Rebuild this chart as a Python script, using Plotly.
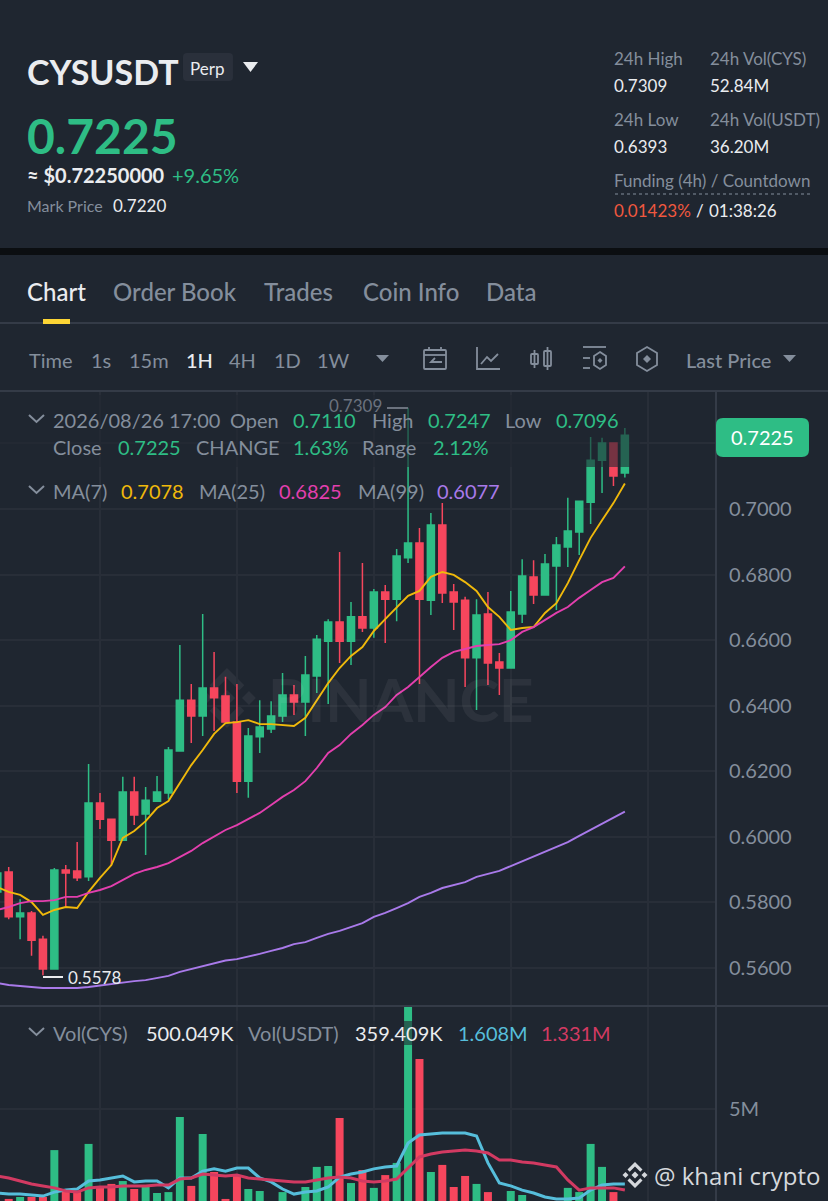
import plotly.graph_objects as go
from plotly.subplots import make_subplots

W, H = 828, 1201
BG = '#1F2630'
GRID = '#282E38'
AXIS = '#343B47'
GREEN = '#2EBD85'
RED = '#F6465D'
GRAY = '#848E9C'
WHITE = '#EAECEF'
YELLOW = '#F0B90B'
PINK = '#E33FAE'
PURPLE = '#A97AEA'
VOL_BLUE = '#56BEDB'
VOL_RED = '#D23A62'
FONT = 'Lato'

# 1h candles, last one is 2026/08/26 17:00
opens = [.5832, .5893, .5756, .5768, .5688, .5597, .5899, .5896, .5878, .6103, .6054, .5990, .6137, .6070, .6109,
         .6134, .6262, .6417, .6369, .6454, .6430, .6350, .6170, .6305, .6329, .6369, .6433, .6411, .6491, .6597,
         .6655, .6597, .6671, .6637, .6747, .6725, .6851, .6896, .6722, .6951, .6747, .6722, .6546, .6680, .6533,
         .6515, .6680, .6793, .6738, .6826, .6884, .6930, .7021, .7149, .7201, .7110]
highs = [.5899, .5908, .5810, .5774, .5698, .5905, .5914, .5984, .6222, .6134, .6054, .6183, .6183, .6152, .6186,
         .6274, .6585, .6466, .6680, .6564, .6488, .6466, .6332, .6417, .6414, .6500, .6463, .6552, .6616, .6664,
         .6869, .6716, .6835, .6756, .6768, .6878, .7309, .6942, .6988, .7018, .6771, .6732, .6725, .6747, .6561,
         .6750, .6847, .6844, .6863, .6915, .7034, .7024, .7220, .7217, .7204, .7247]
lows = [.5823, .5749, .5688, .5637, .5578, .5597, .5786, .5865, .5865, .6024, .5914, .5990, .6036, .5945, .6109,
        .6115, .6262, .6286, .6308, .6323, .6350, .6134, .6119, .6256, .6317, .6350, .6372, .6308, .6439, .6405,
        .6530, .6524, .6625, .6607, .6591, .6658, .6835, .6466, .6677, .6713, .6631, .6457, .6387, .6463, .6433,
        .6515, .6652, .6710, .6738, .6692, .6823, .6860, .6954, .7049, .7070, .7096]
closes = [.5890, .5756, .5768, .5685, .5597, .5899, .5890, .5875, .6103, .6054, .5990, .6137, .6067, .6112, .6137,
          .6265, .6417, .6369, .6454, .6424, .6350, .6170, .6308, .6335, .6369, .6433, .6411, .6494, .6603, .6655,
          .6597, .6671, .6637, .6747, .6725, .6857, .6896, .6725, .6951, .6744, .6716, .6546, .6677, .6530, .6515,
          .6686, .6796, .6738, .6832, .6890, .6933, .7024, .7149, .7201, .7101, .7225]

ma7 = [.5847, .5832, .5823, .5801, .5762, .5777, .5786, .5783, .5832, .5875, .5914, .5997, .6018, .6048, .6088,
       .6109, .6164, .6219, .6265, .6314, .6347, .6350, .6356, .6344, .6344, .6341, .6338, .6363, .6417, .6469,
       .6515, .6552, .6579, .6628, .6664, .6701, .6735, .6750, .6793, .6808, .6799, .6777, .6750, .6701, .6671,
       .6631, .6637, .6640, .6683, .6713, .6774, .6844, .6912, .6966, .7018, .7078]
ma25 = [.5777, .5786, .5798, .5804, .5804, .5807, .5817, .5817, .5829, .5838, .5850, .5868, .5887, .5899, .5908,
        .5920, .5939, .5957, .5981, .6000, .6021, .6036, .6054, .6073, .6097, .6122, .6143, .6170, .6210, .6256,
        .6280, .6314, .6341, .6372, .6396, .6433, .6457, .6488, .6518, .6546, .6564, .6573, .6582, .6585, .6588,
        .6600, .6625, .6640, .6661, .6683, .6701, .6729, .6753, .6777, .6790, .6825]
ma99 = [.5554, .5548, .5545, .5542, .5539, .5539, .5539, .5539, .5542, .5547, .5550, .5557, .5560, .5563, .5570,
        .5576, .5588, .5597, .5606, .5615, .5623, .5627, .5634, .5643, .5652, .5661, .5673, .5679, .5692, .5704,
        .5713, .5725, .5737, .5756, .5768, .5783, .5798, .5817, .5829, .5844, .5853, .5862, .5878, .5887, .5896,
        .5911, .5926, .5939, .5954, .5969, .5984, .6003, .6021, .6039, .6058, .6077]

# volume in millions
volumes = [.6, .93, 1.02, 1.02, 1.02, 3.14, 1.29, 1.24, 3.42, 1.43, 1.61, 1.74, 1.38, 1.47, 1.20,
           1.24, 4.64, 1.52, 3.87, 2.15, .93, 2.01, 1.38, 1.29, .7, 1.24, .7, 1.47, 2.38, 2.42,
           4.59, 1.65, 2.24, 1.43, 2.01, 2.56, 9.75, 7.26, 2.15, 2.47, 1.47, 1.97, 1.61, 1.24, .7,
           1.29, 1.11, .7, .7, .7, 1.43, 1.24, 3.42, 2.38, 1.24, .500049]
vol_ma_fast = [1.20, 1.15, 1.15, 1.11, 1.06, 1.24, 1.33, 1.38, 1.74, 1.79, 1.88, 1.97, 1.70, 1.74, 1.74,
               1.43, 1.88, 1.88, 2.19, 2.29, 2.19, 2.33, 2.33, 1.88, 1.70, 1.38, 1.15, 1.24, 1.29, 1.47,
               1.92, 2.06, 2.15, 2.29, 2.38, 2.42, 3.46, 3.82, 3.87, 3.91, 3.91, 3.91, 3.78, 2.56, 1.65,
               1.52, 1.33, 1.20, 1.02, .93, .93, .97, 1.33, 1.56, 1.61, 1.608]
vol_ma_slow = [1.97, 1.88, 1.74, 1.61, 1.52, 1.43, 1.29, 1.24, 1.43, 1.47, 1.47, 1.52, 1.52, 1.52, 1.56,
               1.56, 1.83, 1.88, 2.06, 2.01, 1.97, 2.01, 1.88, 1.83, 1.79, 1.74, 1.70, 1.70, 1.79, 1.88,
               1.92, 1.88, 1.74, 1.70, 1.74, 1.83, 2.33, 2.83, 2.96, 3.05, 3.10, 3.14, 3.10, 3.01, 2.69,
               2.69, 2.60, 2.56, 2.47, 2.38, 1.79, 1.33, 1.43, 1.43, 1.43, 1.331]

candle_x = list(range(len(closes)))
price_ticks = [.56, .58, .60, .62, .64, .66, .68, .70, .72]
price_tick_labels = ['0.5600', '0.5800', '0.6000', '0.6200', '0.6400', '0.6600', '0.6800', '0.7000', '']
time_ticks = [9, 21, 33, 45, 57]
vol_ticks = [5]
vol_tick_labels = ['5M']

# x px, y px, text, size, colour, weight
header_texts = [
    (28, 71, 'CYSUSDT', 34, WHITE, 700),
    (191, 69, 'Perp', 17, WHITE, 400),
    (28, 135, '0.7225', 48, GREEN, 700),
    (28, 175, '≈ $0.72250000', 20, WHITE, 700),
    (173, 175, '+9.65%', 20, GREEN, 400),
    (28, 205, 'Mark Price', 16, GRAY, 400),
    (114, 205, '0.7220', 17, WHITE, 400),
    (615, 58, '24h High', 17, GRAY, 400),
    (711, 58, '24h Vol(CYS)', 17, GRAY, 400),
    (615, 86, '0.7309', 17, WHITE, 400),
    (711, 86, '52.84M', 17, WHITE, 400),
    (615, 119, '24h Low', 17, GRAY, 400),
    (711, 119, '24h Vol(USDT)', 17, GRAY, 400),
    (615, 147, '0.6393', 17, WHITE, 400),
    (711, 147, '36.20M', 17, WHITE, 400),
    (615, 181, 'Funding (4h) / Countdown', 17, GRAY, 400),
    (615, 210, '0.01423%', 17, '#F0583F', 400),
    (697, 210, '/', 17, WHITE, 400),
    (710, 210, '01:38:26', 17, WHITE, 400),
]
tab_texts = [
    (28, 292, 'Chart', 24, WHITE, 500),
    (114, 292, 'Order Book', 24, GRAY, 500),
    (265, 292, 'Trades', 24, GRAY, 500),
    (364, 292, 'Coin Info', 24, GRAY, 500),
    (487, 292, 'Data', 24, GRAY, 500),
]
toolbar_texts = [
    (30, 360, 'Time', 20, GRAY, 400),
    (92, 360, '1s', 20, GRAY, 400),
    (130, 360, '15m', 20, GRAY, 400),
    (187, 360, '1H', 20, WHITE, 500),
    (230, 360, '4H', 20, GRAY, 400),
    (275, 360, '1D', 20, GRAY, 400),
    (318, 360, '1W', 20, GRAY, 400),
    (687, 360, 'Last Price', 20, GRAY, 500),
]
legend_texts = [
    (54, 420, '2026/08/26 17:00', 20, GRAY, 400),
    (231, 420, 'Open', 20, GRAY, 400),
    (294, 420, '0.7110', 20, GREEN, 400),
    (373, 420, 'High', 20, GRAY, 400),
    (429, 420, '0.7247', 20, GREEN, 400),
    (506, 420, 'Low', 20, GRAY, 400),
    (557, 420, '0.7096', 20, GREEN, 400),
    (54, 447, 'Close', 20, GRAY, 400),
    (119, 447, '0.7225', 20, GREEN, 400),
    (197, 447, 'CHANGE', 20, GRAY, 400),
    (294, 447, '1.63%', 20, GREEN, 400),
    (363, 447, 'Range', 20, GRAY, 400),
    (434, 447, '2.12%', 20, GREEN, 400),
    (54, 491, 'MA(7)', 20, GRAY, 400),
    (122, 491, '0.7078', 20, YELLOW, 400),
    (200, 491, 'MA(25)', 20, GRAY, 400),
    (280, 491, '0.6825', 20, PINK, 400),
    (359, 491, 'MA(99)', 20, GRAY, 400),
    (438, 491, '0.6077', 20, PURPLE, 400),
    (54, 1033, 'Vol(CYS)', 20, GRAY, 400),
    (147, 1033, '500.049K', 20, WHITE, 400),
    (249, 1033, 'Vol(USDT)', 20, GRAY, 400),
    (356, 1033, '359.409K', 20, WHITE, 400),
    (459, 1033, '1.608M', 20, VOL_BLUE, 400),
    (542, 1033, '1.331M', 20, VOL_RED, 400),
    (330, 406, '0.7309', 17, '#6B727E', 400),
    (69, 977, '0.5578', 17, WHITE, 400),
]


def px(x):
    return x / W


def py(y):
    return 1 - y / H


def poly(points, close=False):
    s = 'M ' + ' L '.join(f'{px(x):.5f} {py(y):.5f}' for x, y in points)
    return s + (' Z' if close else '')


def round_rect(x0, y0, x1, y1, r):
    def p(x, y):
        return f'{px(x):.5f} {py(y):.5f}'
    return (f'M {p(x0 + r, y0)} L {p(x1 - r, y0)} Q {p(x1, y0)} {p(x1, y0 + r)} L {p(x1, y1 - r)} '
            f'Q {p(x1, y1)} {p(x1 - r, y1)} L {p(x0 + r, y1)} Q {p(x0, y1)} {p(x0, y1 - r)} '
            f'L {p(x0, y0 + r)} Q {p(x0, y0)} {p(x0 + r, y0)} Z')


def add_path(fig, path, fill=None, line=None, width=0, layer='above'):
    fig.add_shape(type='path', path=path, xref='paper', yref='paper', layer=layer,
                  fillcolor=fill if fill else 'rgba(0,0,0,0)',
                  line=dict(color=line if line else 'rgba(0,0,0,0)', width=width))


def add_rect(fig, x0, y0, x1, y1, fill, layer='above'):
    fig.add_shape(type='rect', xref='paper', yref='paper', layer=layer, x0=px(x0), x1=px(x1), y0=py(y1), y1=py(y0),
                  fillcolor=fill, line_width=0)


def add_line(fig, x0, y0, x1, y1, color, width=1, dash=None):
    fig.add_shape(type='line', xref='paper', yref='paper', layer='above', x0=px(x0), x1=px(x1), y0=py(y0), y1=py(y1),
                  line=dict(color=color, width=width, dash=dash))


def add_text(fig, row):
    x, y, s, size, color, weight = row
    # annotation box adds about 2px on the left
    fig.add_annotation(x=px(x - 1.7), y=py(y), xref='paper', yref='paper', text=s, showarrow=False, xanchor='left',
                       yanchor='middle', borderpad=0, font=dict(family=FONT, size=size, color=color, weight=weight))


def binance_logo(fig, cx, cy, r, color, layer='above'):
    # five pieces of the exchange logo, r is the half height
    k = r / 13
    pts = [
        [(0, -3.5), (3.5, 0), (0, 3.5), (-3.5, 0)],
        [(-9.5, -3), (-6.5, 0), (-9.5, 3), (-12.5, 0)],
        [(9.5, -3), (12.5, 0), (9.5, 3), (6.5, 0)],
        [(0, -13), (7.5, -5.5), (5.3, -3.3), (0, -8.6), (-5.3, -3.3), (-7.5, -5.5)],
        [(0, 13), (-7.5, 5.5), (-5.3, 3.3), (0, 8.6), (5.3, 3.3), (7.5, 5.5)],
    ]
    for piece in pts:
        add_path(fig, poly([(cx + a * k, cy + b * k) for a, b in piece], close=True), fill=color, layer=layer)


fig = make_subplots(rows=2, cols=1, shared_xaxes=True, vertical_spacing=0)

fig.add_trace(go.Candlestick(x=candle_x, open=opens, high=highs, low=lows, close=closes, whiskerwidth=0,
                             increasing=dict(line=dict(color=GREEN, width=1.5), fillcolor=GREEN),
                             decreasing=dict(line=dict(color=RED, width=1.5), fillcolor=RED),
                             hoverinfo='skip'), row=1, col=1)
fig.add_trace(go.Scatter(x=candle_x, y=ma7, mode='lines', line=dict(color=YELLOW, width=1.9), hoverinfo='skip'), row=1, col=1)
fig.add_trace(go.Scatter(x=candle_x, y=ma25, mode='lines', line=dict(color=PINK, width=1.9), hoverinfo='skip'), row=1, col=1)
fig.add_trace(go.Scatter(x=candle_x, y=ma99, mode='lines', line=dict(color=PURPLE, width=1.9), hoverinfo='skip'), row=1, col=1)

bar_colors = [GREEN if c >= o else RED for o, c in zip(opens, closes)]
fig.add_trace(go.Bar(x=candle_x, y=volumes, marker=dict(color=bar_colors, line_width=0), width=0.7, hoverinfo='skip'), row=2, col=1)
fig.add_trace(go.Scatter(x=candle_x, y=vol_ma_fast, mode='lines', line=dict(color=VOL_BLUE, width=3), hoverinfo='skip'), row=2, col=1)
fig.add_trace(go.Scatter(x=candle_x, y=vol_ma_slow, mode='lines', line=dict(color=VOL_RED, width=3), hoverinfo='skip'), row=2, col=1)

fig.update_layout(width=W, height=H, margin=dict(l=0, r=0, t=0, b=0), paper_bgcolor=BG, plot_bgcolor=BG,
                  showlegend=False, boxgap=0.38, boxgroupgap=0, bargap=0.3, font=dict(family=FONT),
                  xaxis_rangeslider_visible=False)

x_domain = [0, 715 / W]
x_range = [0.237, 62.9]
fig.update_xaxes(domain=x_domain, range=x_range, tickvals=time_ticks, showticklabels=False, ticks='',
                 gridcolor=GRID, gridwidth=2, showline=False, zeroline=False)
fig.update_yaxes(domain=[py(1006), py(392)], range=[0.54841, 0.73569], tickvals=price_ticks, ticktext=price_tick_labels,
                 side='right', ticks='', ticklabelstandoff=8, gridcolor=GRID, gridwidth=2, zeroline=False,
                 showline=True, linecolor=AXIS, linewidth=2, tickfont=dict(size=20, color=GRAY, family=FONT), row=1, col=1)
fig.update_yaxes(domain=[0, py(1006)], range=[0.837, 9.66], tickvals=vol_ticks, ticktext=vol_tick_labels,
                 side='right', ticks='', ticklabelstandoff=8, gridcolor=GRID, gridwidth=2, zeroline=False,
                 showline=True, linecolor=AXIS, linewidth=2, tickfont=dict(size=20, color=GRAY, family=FONT), row=2, col=1)

# header and toolbar chrome
add_rect(fig, 0, 248, W, 255, '#0B0E11')
add_rect(fig, 0, 322, W, 324, AXIS)
add_rect(fig, 43, 319, 70, 324, '#FCD535')
add_rect(fig, 0, 390, W, 392, AXIS)
add_rect(fig, 0, 1005, W, 1007, AXIS)
add_path(fig, round_rect(183, 53, 233, 81, 4), fill='#2A303B')
add_path(fig, poly([(243, 62), (258, 62), (250.5, 72)], close=True), fill=WHITE)
add_line(fig, 615, 194, 812, 194, GRAY, 1.2, 'dot')
add_path(fig, poly([(376, 355), (389, 355), (382.5, 362)], close=True), fill=GRAY)
add_path(fig, poly([(783, 355), (796, 355), (789.5, 362)], close=True), fill=GRAY)

# toolbar icons
add_path(fig, round_rect(424, 350, 446, 369, 1), line=GRAY, width=1.8)
add_line(fig, 424, 355, 446, 355, GRAY, 1.8)
add_line(fig, 429, 347, 429, 351, GRAY, 1.8)
add_line(fig, 441, 347, 441, 351, GRAY, 1.8)
add_path(fig, poly([(442, 362), (431, 362), (435, 358)]), line=GRAY, width=1.8)
add_path(fig, poly([(477, 347), (477, 369), (500, 369)]), line=GRAY, width=1.8)
add_path(fig, poly([(481, 364), (487, 357), (491, 361), (498, 354)]), line=GRAY, width=1.8)
add_path(fig, round_rect(531, 354, 538, 364, 1), line=GRAY, width=1.8)
add_path(fig, round_rect(544, 351, 551, 366, 1), line=GRAY, width=1.8)
add_line(fig, 534.5, 350, 534.5, 368, GRAY, 1.8)
add_line(fig, 547.5, 347, 547.5, 370, GRAY, 1.8)
add_line(fig, 583, 347, 606, 347, GRAY, 1.8)
add_line(fig, 583, 358, 590, 358, GRAY, 1.8)
add_line(fig, 583, 368, 590, 368, GRAY, 1.8)
add_path(fig, poly([(600, 352), (606, 356), (606, 365), (600, 369), (594, 365), (594, 356)], close=True), line=GRAY, width=1.8)
add_path(fig, poly([(600, 358), (602.5, 360.5), (600, 363), (597.5, 360.5)], close=True), fill=GRAY)
add_path(fig, poly([(647, 347), (657, 353), (657, 365), (647, 371), (637, 365), (637, 353)], close=True), line=GRAY, width=1.8)
add_path(fig, poly([(647, 355), (651, 359), (647, 363), (643, 359)], close=True), fill=GRAY)

# chart watermark under the candles
binance_logo(fig, 227, 698, 30, '#2C323C', layer='below')
fig.add_annotation(x=px(266), y=py(699), xref='paper', yref='paper', text='BINANCE', showarrow=False, xanchor='left',
                   yanchor='middle', font=dict(family=FONT, size=60, color='rgba(255,255,255,0.06)', weight=700))

# legend backing dims whatever is under it
add_rect(fig, 0, 395, 640, 467, 'rgba(31,38,48,0.6)')
add_rect(fig, 0, 1021, 640, 1045, 'rgba(31,38,48,0.6)')

for cy in (419, 490, 1032):
    add_path(fig, poly([(29, cy - 4), (36.5, cy + 3), (44, cy - 4)]), line=GRAY, width=2)

# high / low markers
add_line(fig, 387, 408, 408, 408, '#6B727E', 2)
add_line(fig, 43, 977, 63, 977, WHITE, 2)

# last price tag
add_path(fig, round_rect(716, 418, 809, 457, 7), fill=GREEN)
fig.add_annotation(x=px(762.5), y=py(437), xref='paper', yref='paper', text='0.7225', showarrow=False,
                   xanchor='center', yanchor='middle', font=dict(family=FONT, size=20, color='#FFFFFF'))

for row in header_texts + tab_texts + toolbar_texts + legend_texts:
    add_text(fig, row)

# repost mark
binance_logo(fig, 635, 1175, 13, '#D5D8DC')
fig.add_annotation(x=px(652), y=py(1175), xref='paper', yref='paper', text='@ khani crypto', showarrow=False,
                   xanchor='left', yanchor='middle', font=dict(family='Open Sans', size=24, color='#D5D8DC'))

# page has a default body margin that would push the chart off the window
fig.write_html("out.html", config={'displayModeBar': False},
               post_script="document.body.style.margin='0';document.body.style.background='#1F2630';")
